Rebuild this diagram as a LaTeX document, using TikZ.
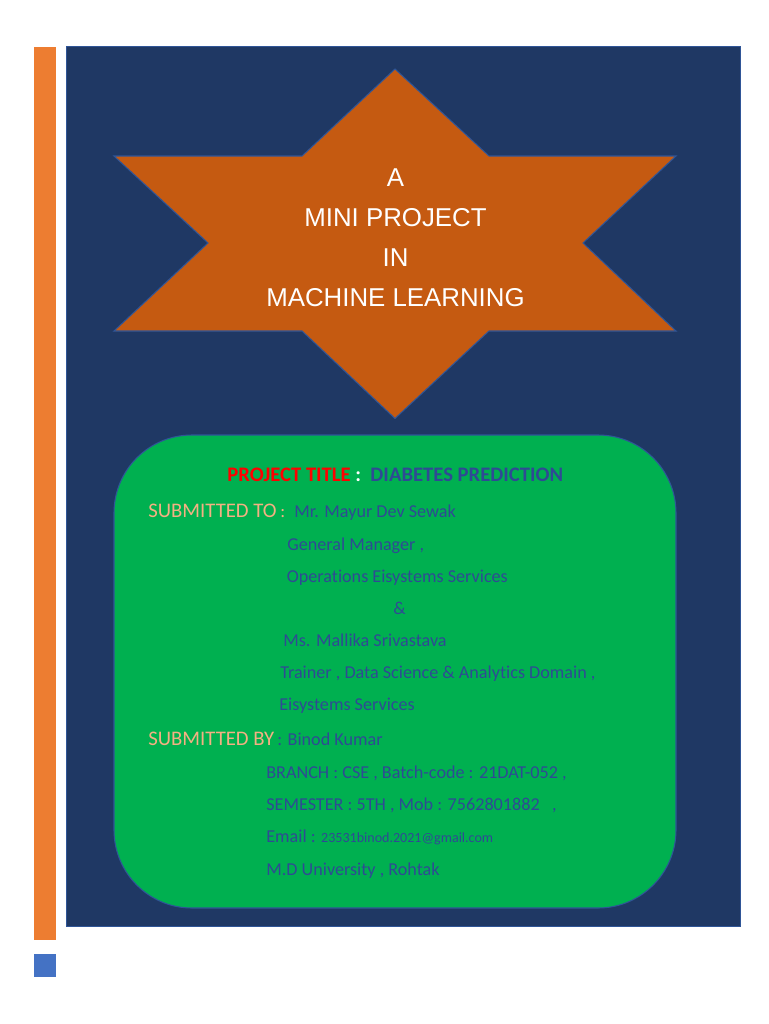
\documentclass[tikz,border=0pt]{standalone}
\usepackage{fontspec}
\setmainfont{Carlito}[Ligatures=NoCommon]
\newfontfamily\starfont{Liberation Sans}
\definecolor{barorange}{HTML}{ED7D31}
\definecolor{squareblue}{HTML}{4472C4}
\definecolor{pagenavy}{HTML}{1F3864}
\definecolor{starorange}{HTML}{C55A11}
\definecolor{panelgreen}{HTML}{00B050}
\definecolor{edgeblue}{HTML}{2F5597}
\definecolor{inkblue}{HTML}{2F4A94}
\definecolor{labelpeach}{HTML}{F4B183}
\tikzset{
	heading/.style={font=\starfont\fontsize{14.7}{14.7}\selectfont, text=white, anchor=base},
	detail/.style={font=\fontsize{10.33}{10.33}\selectfont, text=inkblue, anchor=base west, inner sep=0pt},
	label/.style={font=\fontsize{11.8}{11.8}\selectfont, text=labelpeach, anchor=base west, inner sep=0pt}
}
\begin{document}
\begin{tikzpicture}[x=0.02cm, y=-0.02cm]
		%%%%% START %%%%%
		\useasboundingbox (0, 0) rectangle (768, 1024);
		
		\fill[barorange] (34, 47) rectangle (56, 940);
		\fill[squareblue] (34, 954) rectangle (56, 977);
		\draw[fill=pagenavy, draw=edgeblue, line width=0.3pt] (66, 46) rectangle (740.5, 926.5);
		
		\draw[fill=starorange, draw=edgeblue, line width=0.6pt] (395, 69) -- (302, 156) -- (114, 156) -- (208, 243) -- (114, 331) -- (302, 331) -- (395, 418.5) -- (489, 331) -- (676, 331) -- (583, 243) -- (676, 156) -- (489, 156) -- cycle;
		
		\node[heading] (lineA) at (395.5, 186.5) {A};
		\node[heading] (lineMini) at (395.5, 226.5) {MINI PROJECT};
		\node[heading] (lineIn) at (395.5, 266.5) {IN};
		\node[heading] (lineMachine) at (395.5, 306) {MACHINE LEARNING};
		
		\draw[fill=panelgreen, draw=edgeblue, line width=0.6pt, rounded corners=1.56cm] (114, 435) rectangle (676, 908);
		
		\node[anchor=base west, inner sep=0pt, font=\bfseries\fontsize{11.75}{11.75}\selectfont] (titleline) at (227, 481) {\textcolor{red}{PROJECT TITLE} \textcolor{white}{:}\ \ \textcolor{inkblue}{DIABETES PREDICTION}};
		
		\node[label] (toLabel) at (148, 517) {SUBMITTED TO};
		\node[detail, text=labelpeach] (toColon) at (280, 517) {:};
		\node[detail] (toMayur) at (294, 517) {Mr. Mayur Dev Sewak};
		\node[detail] (toManager) at (287, 550) {General Manager ,};
		\node[detail] (toServices) at (286.5, 582) {Operations Eisystems Services};
		\node[detail] (toAnd) at (393, 614) {\&};
		\node[detail] (toMallika) at (283, 646) {Ms. Mallika Srivastava};
		\node[detail] (toTrainer) at (280, 678) {Trainer , Data Science \& Analytics Domain ,};
		\node[detail] (toEisystems) at (279, 710) {Eisystems Services};
		
		\node[label] (byLabel) at (148, 745) {SUBMITTED BY};
		\node[detail] (byBinod) at (277, 745) {: Binod Kumar};
		\node[detail] (byBranch) at (266, 778) {BRANCH : CSE , Batch-code : 21DAT-052 ,};
		\node[detail] (bySemester) at (266, 810) {SEMESTER : 5TH , Mob : 7562801882 \ \ ,};
		\node[detail] (byEmail) at (266, 842) {Email : {\fontsize{8}{8}\selectfont 23531binod.2021@gmail.com}};
		\node[detail] (byCollege) at (266, 875) {M.D University , Rohtak};
		
		%%%%% END %%%%%
	\end{tikzpicture}
\end{document}
